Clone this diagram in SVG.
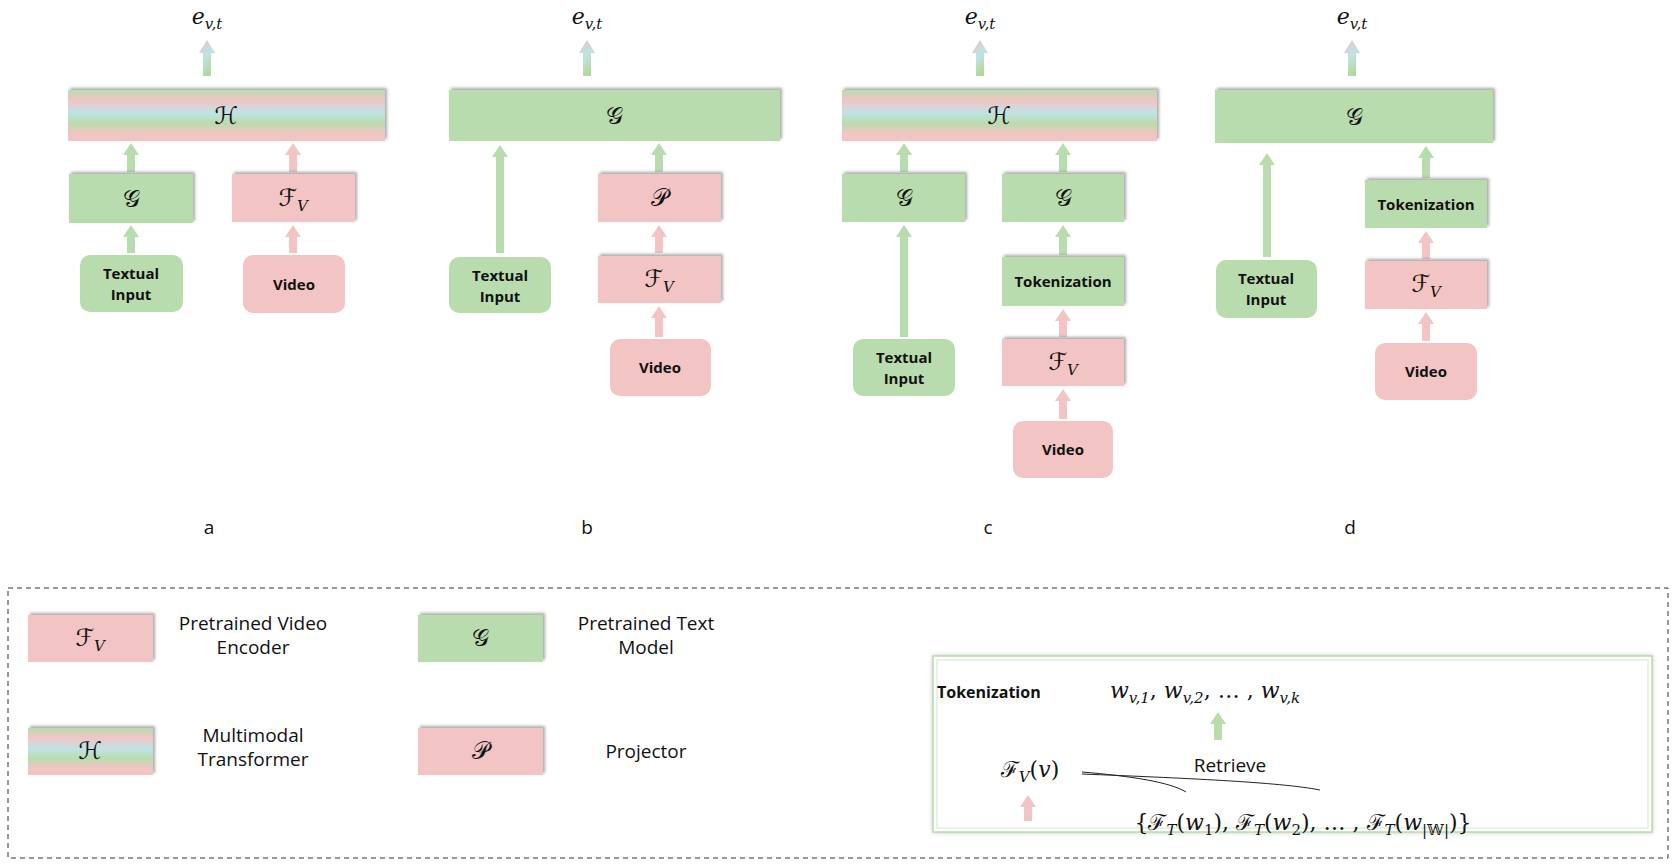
<svg xmlns="http://www.w3.org/2000/svg" width="1677" height="866" viewBox="0 0 1677 866">
<defs>
<linearGradient id="hg" x1="0" y1="0" x2="0" y2="1">
<stop offset="0" stop-color="#b9dcae"/><stop offset="0.2" stop-color="#f2c4c4"/><stop offset="0.45" stop-color="#bfe3e6"/><stop offset="0.65" stop-color="#b9dcae"/><stop offset="0.85" stop-color="#f2c4c4"/><stop offset="1" stop-color="#f2c4c4"/>
</linearGradient>
<linearGradient id="eg" x1="0" y1="0" x2="0.4" y2="1">
<stop offset="0" stop-color="#f2bcbc"/><stop offset="0.5" stop-color="#bfe3e6"/><stop offset="1" stop-color="#b3d89f"/>
</linearGradient>
<filter id="sh" x="-10%" y="-20%" width="125%" height="150%"><feDropShadow dx="2" dy="-2" stdDeviation="1.5" flood-color="#555" flood-opacity="0.5"/></filter>
<filter id="sh2" x="-10%" y="-20%" width="125%" height="150%"><feDropShadow dx="0" dy="0" stdDeviation="2" flood-color="#777" flood-opacity="0.4"/></filter>
</defs>
<style>
.g{fill:#b9dcae}.p{fill:#f2c4c4}
.lbl{font-family:"Open Sans","Liberation Sans",sans-serif;font-weight:bold;font-size:15px;text-anchor:middle;fill:#111}
.m{font-family:"DejaVu Serif","Liberation Serif",serif;font-style:italic;font-size:22px;text-anchor:middle;fill:#111}
.ms{font-family:"DejaVu Serif","DejaVu Sans",serif;font-size:24px;text-anchor:middle;fill:#111}
.t{font-family:"Open Sans","Liberation Sans",sans-serif;font-size:19px;text-anchor:middle;fill:#111}
.ga{fill:#b9dcae}.pa{fill:#f2c4c4}.ea{fill:url(#eg)}
</style>

<g id="connectors">
<!-- a -->
<path class="ea" d="M203 76V53H199L207 40L215 53H211V76Z"/>
<path class="ga" d="M127 172V155H123L131 143L139 155H135V172Z"/>
<path class="pa" d="M289 172V155H285L293 143L301 155H297V172Z"/>
<path class="ga" d="M127 253V237H123L131 225L139 237H135V253Z"/>
<path class="pa" d="M289 253V237H285L293 225L301 237H297V253Z"/>
<!-- b -->
<path class="ea" d="M583 76V53H579L587 40L595 53H591V76Z"/>
<path class="ga" d="M496 253V157H492L500 145L508 157H504V253Z"/>
<path class="ga" d="M655 172V155H651L659 143L667 155H663V172Z"/>
<path class="pa" d="M655 253V237H651L659 225L667 237H663V253Z"/>
<path class="pa" d="M655 337V318H651L659 306L667 318H663V337Z"/>
<!-- c -->
<path class="ea" d="M976 76V53H972L980 40L988 53H984V76Z"/>
<path class="ga" d="M900 172V155H896L904 143L912 155H908V172Z"/>
<path class="ga" d="M1059 172V155H1055L1063 143L1071 155H1067V172Z"/>
<path class="ga" d="M900 337V237H896L904 225L912 237H908V337Z"/>
<path class="ga" d="M1059 255V237H1055L1063 225L1071 237H1067V255Z"/>
<path class="pa" d="M1059 337V321H1055L1063 309L1071 321H1067V337Z"/>
<path class="pa" d="M1059 419V401H1055L1063 389L1071 401H1067V419Z"/>
<!-- d -->
<path class="ea" d="M1348 76V53H1344L1352 40L1360 53H1356V76Z"/>
<path class="ga" d="M1263 257V165H1259L1267 153L1275 165H1271V257Z"/>
<path class="ga" d="M1422 178V158H1418L1426 146L1434 158H1430V178Z"/>
<path class="pa" d="M1422 259V243H1418L1426 231L1434 243H1430V259Z"/>
<path class="pa" d="M1422 341V324H1418L1426 312L1434 324H1430V341Z"/>
</g>

<g id="e-labels">
<text class="m" x="207" y="24">e<tspan font-size="15" dy="5">v,t</tspan></text>
<text class="m" x="587" y="24">e<tspan font-size="15" dy="5">v,t</tspan></text>
<text class="m" x="980" y="24">e<tspan font-size="15" dy="5">v,t</tspan></text>
<text class="m" x="1352" y="24">e<tspan font-size="15" dy="5">v,t</tspan></text>
</g>

<g id="a">
<rect x="68" y="90" width="317" height="51" fill="url(#hg)" filter="url(#sh)"/><text class="ms" x="226" y="124">ℋ</text>
<rect class="g" x="69" y="174" width="124" height="49" filter="url(#sh)"/><text class="ms" x="131" y="207">𝒢</text>
<rect class="p" x="232" y="174" width="123" height="48" filter="url(#sh)"/><text class="ms" x="293" y="206">ℱ<tspan font-size="15" font-style="italic" dy="5">V</tspan></text>
<rect class="g" x="80" y="255" width="103" height="57" rx="10"/><text class="lbl" x="131" y="279">Textual</text><text class="lbl" x="131" y="300">Input</text>
<rect class="p" x="243" y="255" width="102" height="58" rx="10"/><text class="lbl" x="294" y="290">Video</text>
<text class="t" x="209" y="534">a</text>
</g>

<g id="b">
<rect class="g" x="449" y="90" width="331" height="51" filter="url(#sh)"/><text class="ms" x="614" y="124">𝒢</text>
<rect class="g" x="449" y="257" width="102" height="56" rx="10"/><text class="lbl" x="500" y="281">Textual</text><text class="lbl" x="500" y="302">Input</text>
<rect class="p" x="598" y="174" width="123" height="48" filter="url(#sh)"/><text class="ms" x="659" y="206">𝒫</text>
<rect class="p" x="598" y="256" width="123" height="47" filter="url(#sh)"/><text class="ms" x="659" y="287">ℱ<tspan font-size="15" font-style="italic" dy="5">V</tspan></text>
<rect class="p" x="610" y="339" width="101" height="57" rx="10"/><text class="lbl" x="660" y="373">Video</text>
<text class="t" x="587" y="534">b</text>
</g>

<g id="c">
<rect x="842" y="90" width="315" height="51" fill="url(#hg)" filter="url(#sh)"/><text class="ms" x="999" y="124">ℋ</text>
<rect class="g" x="842" y="174" width="123" height="48" filter="url(#sh)"/><text class="ms" x="904" y="206">𝒢</text>
<rect class="g" x="1002" y="174" width="122" height="48" filter="url(#sh)"/><text class="ms" x="1063" y="206">𝒢</text>
<rect class="g" x="1002" y="257" width="122" height="49" filter="url(#sh)"/><text class="lbl" x="1063" y="287">Tokenization</text>
<rect class="p" x="1002" y="339" width="122" height="47" filter="url(#sh)"/><text class="ms" x="1063" y="370">ℱ<tspan font-size="15" font-style="italic" dy="5">V</tspan></text>
<rect class="p" x="1013" y="421" width="100" height="57" rx="10"/><text class="lbl" x="1063" y="455">Video</text>
<rect class="g" x="853" y="339" width="102" height="57" rx="10"/><text class="lbl" x="904" y="363">Textual</text><text class="lbl" x="904" y="384">Input</text>
<text class="t" x="988" y="534">c</text>
</g>

<g id="d">
<rect class="g" x="1215" y="90" width="278" height="53" filter="url(#sh)"/><text class="ms" x="1354" y="125">𝒢</text>
<rect class="g" x="1216" y="260" width="101" height="58" rx="10"/><text class="lbl" x="1266" y="284">Textual</text><text class="lbl" x="1266" y="305">Input</text>
<rect class="g" x="1365" y="180" width="122" height="48" filter="url(#sh)"/><text class="lbl" x="1426" y="210">Tokenization</text>
<rect class="p" x="1365" y="261" width="122" height="48" filter="url(#sh)"/><text class="ms" x="1426" y="292">ℱ<tspan font-size="15" font-style="italic" dy="5">V</tspan></text>
<rect class="p" x="1375" y="343" width="102" height="57" rx="10"/><text class="lbl" x="1426" y="377">Video</text>
<text class="t" x="1350" y="534">d</text>
</g>

<g id="legend">
<rect x="8" y="588" width="1660" height="270" fill="none" stroke="#333" stroke-width="1" stroke-dasharray="5,4"/>
<rect class="p" x="28" y="615" width="125" height="47" filter="url(#sh)"/><text class="ms" x="90" y="646">ℱ<tspan font-size="15" font-style="italic" dy="5">V</tspan></text>
<text class="t" x="253" y="630">Pretrained Video</text><text class="t" x="253" y="654">Encoder</text>
<rect class="g" x="418" y="615" width="125" height="47" filter="url(#sh)"/><text class="ms" x="480" y="646">𝒢</text>
<text class="t" x="646" y="630">Pretrained Text</text><text class="t" x="646" y="654">Model</text>
<rect x="28" y="728" width="125" height="47" fill="url(#hg)" filter="url(#sh)"/><text class="ms" x="90" y="759">ℋ</text>
<text class="t" x="253" y="742">Multimodal</text><text class="t" x="253" y="766">Transformer</text>
<rect class="p" x="418" y="728" width="125" height="47" filter="url(#sh)"/><text class="ms" x="480" y="759">𝒫</text>
<text class="t" x="646" y="758">Projector</text>
</g>

<g id="tokenization-box">
<rect x="933" y="656" width="719" height="176" fill="#fff" stroke="#b9dcae" stroke-width="1.5" filter="url(#sh2)"/>
<rect x="937" y="660" width="711" height="168" fill="none" stroke="#d4e8cc" stroke-width="1"/>
<text x="937" y="698" font-family="'Open Sans','Liberation Sans',sans-serif" font-weight="bold" font-size="16" fill="#111">Tokenization</text>
<path class="ga" d="M1214 740V724H1210L1218 712L1226 724H1222V740Z"/>
<path class="pa" d="M1024 821V807H1020L1028 795L1036 807H1032V821Z"/>
<path d="M1082 772 C1130 776 1170 782 1186 792 M1082 774 C1180 778 1280 782 1320 790" fill="none" stroke="#222" stroke-width="1"/>
<text class="m" x="1205" y="698">w<tspan font-size="15" dy="5">v,1</tspan><tspan dy="-5" font-style="normal">, </tspan>w<tspan font-size="15" dy="5">v,2</tspan><tspan dy="-5" font-style="normal">, … , </tspan>w<tspan font-size="15" dy="5">v,k</tspan></text>
<text class="t" x="1230" y="772">Retrieve</text>
<text class="m" x="1030" y="777"><tspan font-style="normal">ℱ</tspan><tspan font-size="15" dy="5">V</tspan><tspan dy="-5" font-style="normal">(</tspan>v<tspan font-style="normal">)</tspan></text>
<text class="m" x="1303" y="830"><tspan font-style="normal">{ℱ</tspan><tspan font-size="15" dy="5">T</tspan><tspan dy="-5" font-style="normal">(</tspan>w<tspan font-size="15" dy="5" font-style="normal">1</tspan><tspan dy="-5" font-style="normal">), ℱ</tspan><tspan font-size="15" dy="5">T</tspan><tspan dy="-5" font-style="normal">(</tspan>w<tspan font-size="15" dy="5" font-style="normal">2</tspan><tspan dy="-5" font-style="normal">), … , ℱ</tspan><tspan font-size="15" dy="5">T</tspan><tspan dy="-5" font-style="normal">(</tspan>w<tspan font-size="15" dy="5" font-style="normal">|𝕎|</tspan><tspan dy="-5" font-style="normal">)}</tspan></text>
</g>
</svg>
